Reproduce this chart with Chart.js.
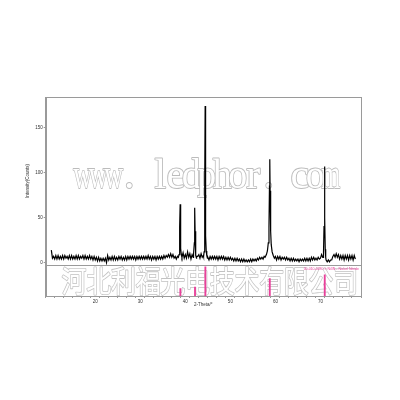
<!DOCTYPE html>
<html>
<head>
<meta charset="utf-8">
<script src="https://cdn.jsdelivr.net/npm/chart.js@4.4.0/dist/chart.umd.min.js"></script>
<style>
  html, body { margin: 0; padding: 0; background: #fff; }
</style>
</head>
<body>
<canvas id="xrdChart" width="400" height="400"></canvas>
<script>
// XRD scan, 2-Theta from 10.25 in 0.25 deg steps (background part)
const scanStart = 10.25;
const scanStep = 0.25;
const scanCounts = [
  14, 5, 7,
  4, 8, 4, 8,   4, 7, 4, 8,   4, 8, 5, 7,   4, 8, 4, 8,   4, 7, 4, 8,
  4, 8, 4, 7,   5, 8, 4, 8,   4, 7, 4, 8,   4, 7, 3, 7,   3, 6, 2, 6,
  2, 5, 2, 5,   2, 5, 0, 8,   3, 6, 3, 7,   3, 7, 3, 6,   3, 7, 4, 7,
  3, 6, 3, 7,   3, 7, 4, 7,   4, 7, 4, 7,   3, 7, 4, 7,   4, 7, 4, 7,
  4, 7, 4, 8,   4, 7, 3, 7,   4, 7, 3, 7,   4, 7, 4, 7,   4, 8, 5, 8,
  6, 9, 6, 10,  6, 9, 5, 7,   4, 7, 5, 6,   8, 10, 11, 5, 9, 5, 12, 6,
  10, 4, 9, 6,  8, 9, 7, 7,   9, 5, 10, 6,  8, 7, 6, 6,   6, 3, 7, 4,
  7, 4, 7, 4,   7, 3, 7, 4,   7, 4, 7, 3,   6, 3, 6, 3,   6, 3, 5, 2,
  5, 2, 5, 2,   4, 1, 4, 1,   4, 1, 3, 1,   3, 1, 4, 1,   4, 2, 4, 2,
  5, 3, 6, 4,   6, 4, 7, 6,   9, 13, 22, 80, 30, 12, 8, 6, 7, 3, 7, 4,
  7, 3, 6, 4,   6, 3, 6, 3,   5, 2, 5, 2,   5, 2, 4, 2,   4, 1, 4, 2,
  4, 2, 5, 2,   5, 2, 5, 2,   6, 3, 6, 3,   5, 3, 6, 4,   5, 9, 6, 20,
  15, 3, 1, 3,  1, 3, 3, 7,   9, 6, 10, 6,  9, 4, 8, 4,   8, 3, 8, 4,
  8, 3, 8, 4,   8, 3, 8, 4
];

// reflections, sampled finer
const peakTheta = [
  [38.45, 38.6, 38.7, 38.78, 38.85, 38.92, 39.0, 39.1, 39.25],
  [41.75, 41.9, 42.0, 42.05, 42.1, 42.17, 42.25, 42.35, 42.48],
  [44.05, 44.17, 44.27, 44.34, 44.4, 44.46, 44.54, 44.64, 44.76, 44.9],
  [57.7, 58.0, 58.22, 58.42, 58.57, 58.68, 58.75, 58.82, 58.94, 59.07, 59.27, 59.52, 59.77],
  [70.58, 70.68, 70.79, 70.9, 70.97, 71.06, 71.16]
];
const peakCounts = [
  [6, 9, 20, 40, 65, 38, 16, 9, 6],
  [6, 10, 22, 45, 61, 35, 14, 8, 5],
  [7, 12, 30, 90, 174, 95, 30, 13, 8, 5],
  [6, 9, 13, 22, 40, 85, 115, 80, 35, 20, 12, 8, 5],
  [6, 12, 40, 107, 50, 15, 6]
];

// reference card (pink sticks)
const refTheta = [38.9, 42.15, 44.45, 58.75, 70.95];
const refIntensity = [24, 29, 94, 56, 68];
const refLabel = '00-010-0280 > Ni3N - Nickel Nitride';

const xLabels = [20, 30, 40, 50, 60, 70];
const yTicks = [0, 50, 100, 150];

const grey = '#9a9a9a';
const pink = '#e8409a';
const textCol = '#333';
const smallFont = { family: 'Liberation Sans', size: 4.5 };

// merge background and peaks
const points = [];
scanCounts.forEach((c, i) => {
  const x = scanStart + i * scanStep;
  const inPeak = peakTheta.some(p => x > p[0] && x < p[p.length - 1]);
  if (!inPeak) points.push({ x: x, y: c });
});
peakTheta.forEach((p, k) => {
  p.forEach((x, j) => points.push({ x: x, y: peakCounts[k][j] }));
});
points.sort((a, b) => a.x - b.x);

const refPoints = refTheta.map((x, i) => ({ x: x, y: refIntensity[i] }));

const xMinor = [];
for (let v = 10; v <= 78; v += 2) xMinor.push(v);

function hollowText(ctx, text, left, cellW, y, font, maxW, stroke, lw) {
  ctx.font = font;
  ctx.textAlign = 'center';
  ctx.textBaseline = 'middle';
  ctx.strokeStyle = stroke;
  ctx.fillStyle = '#fff';
  ctx.lineWidth = lw;
  ctx.lineJoin = 'round';
  Array.from(text).forEach((ch, i) => {
    if (ch === ' ') return;
    const w = ctx.measureText(ch).width;
    const s = Math.min(1, maxW / w);
    ctx.save();
    ctx.translate(left + cellW * (i + 0.5), y);
    ctx.scale(s, 1);
    ctx.strokeText(ch, 0, 0);
    ctx.fillText(ch, 0, 0);
    ctx.restore();
  });
}

const framePlugin = {
  id: 'frame',
  beforeDatasetsDraw(chart) {
    const ctx = chart.ctx;
    ctx.save();
    hollowText(ctx, 'www. ledphor. com', 75, 15.5, 177, '42px "Liberation Serif"', 19, '#bcbcbc', 1.8);
    hollowText(ctx, '河北利福光电技术有限公司', 61.7, 24.7, 281, '30px "Noto Sans CJK SC"', 25, '#c2c2c2', 1.6);
    ctx.restore();
  },
  afterDatasetsDraw(chart) {
    const { ctx, chartArea: a, scales } = chart;
    ctx.save();
    ctx.strokeStyle = grey;
    ctx.lineWidth = 1;
    ctx.strokeRect(Math.round(a.left) + 0.5, Math.round(a.top) + 0.5,
      Math.round(a.right - a.left), Math.round(a.bottom - a.top));
    const yb = Math.round(scales.y.bottom) + 0.5;
    ctx.beginPath();
    ctx.moveTo(a.left, yb);
    ctx.lineTo(a.right, yb);
    ctx.stroke();
    ctx.font = '3.5px "Liberation Sans"';
    ctx.fillStyle = pink;
    ctx.textAlign = 'right';
    ctx.textBaseline = 'top';
    ctx.fillText(refLabel, a.right - 2, scales.y.bottom + 2);
    ctx.restore();
  }
};

new Chart(document.getElementById('xrdChart'), {
  type: 'line',
  data: {
    datasets: [
      {
        data: points,
        yAxisID: 'y',
        borderColor: '#000',
        borderWidth: 1.2,
        pointRadius: 0,
        tension: 0
      },
      {
        type: 'bar',
        data: refPoints,
        yAxisID: 'y2',
        backgroundColor: pink,
        barThickness: 1.2
      }
    ]
  },
  options: {
    responsive: false,
    devicePixelRatio: 1,
    animation: false,
    layout: { padding: { left: 25.3, right: 39, top: 97, bottom: 93 } },
    plugins: { legend: { display: false }, tooltip: { enabled: false } },
    scales: {
      x: {
        type: 'linear',
        min: 10,
        max: 78,
        afterBuildTicks: s => { s.ticks = xMinor.map(v => ({ value: v })); },
        afterFit: s => { s.height = 11; },
        ticks: {
          autoSkip: false,
          maxRotation: 0,
          padding: 1,
          color: textCol,
          font: smallFont,
          callback: v => xLabels.includes(v) ? String(v) : ''
        },
        grid: { drawOnChartArea: false, drawTicks: true, tickLength: 2, color: grey },
        border: { color: grey },
        title: { display: true, text: '2-Theta/°', color: textCol, font: smallFont, padding: 0 }
      },
      y2: {
        stack: 'panels',
        stackWeight: 31,
        position: 'left',
        min: 0,
        max: 100,
        afterFit: s => { s.width = 20.4; },
        ticks: { display: false },
        grid: { display: false },
        border: { color: grey }
      },
      y: {
        stack: 'panels',
        stackWeight: 168,
        position: 'left',
        min: -2.56,
        max: 184.1,
        afterBuildTicks: s => { s.ticks = yTicks.map(v => ({ value: v })); },
        afterFit: s => { s.width = 20.4; },
        ticks: { padding: 1, color: textCol, font: smallFont },
        grid: { drawOnChartArea: false, drawTicks: true, tickLength: 2, color: grey },
        border: { color: grey },
        title: { display: true, text: 'Intensity(Counts)', color: textCol, font: smallFont, padding: 0 }
      }
    }
  },
  plugins: [framePlugin]
});
</script>
</body>
</html>
